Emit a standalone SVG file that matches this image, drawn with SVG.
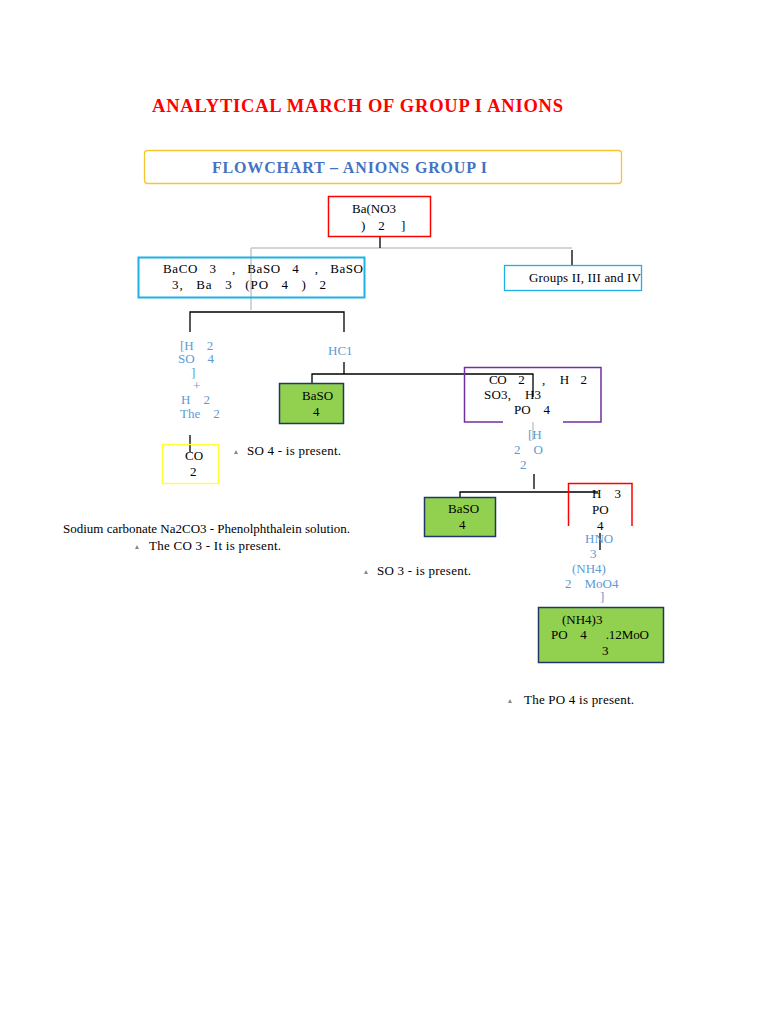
<svg xmlns="http://www.w3.org/2000/svg" width="768" height="1024" viewBox="0 0 768 1024">
<style>
text{font-family:"Liberation Serif","Times New Roman",serif;font-size:13px;fill:#000}
.t{font-size:13px}
.b{fill:#5b9bd5}
.title{font-size:18.5px;font-weight:bold;fill:#ff0000}
.sub{font-size:16px;font-weight:bold;fill:#4472c4}
.ln{stroke:#000;stroke-width:1.3;fill:none}
.gl{stroke:#c8c8c8;stroke-width:1.5;fill:none}
.green{fill:#92d050;stroke:#1f3864;stroke-width:1.5}
.bul{fill:#888}
</style>
<rect width="768" height="1024" fill="#fff"/>
<text class="title" x="152" y="112" textLength="411">ANALYTICAL MARCH OF GROUP I ANIONS</text>
<g id="header">
<rect x="144.5" y="150.5" width="477" height="33" rx="3" fill="#fff" stroke="#f7c531" stroke-width="1.3"/>
<text class="sub" x="212" y="173" textLength="275">FLOWCHART – ANIONS GROUP I</text>
</g>
<g id="connectors">
<path class="gl" d="M251 248 H572 M251 248 V310"/>
<path class="ln" d="M380 236 V248 M572 250 V265"/>
<path class="ln" d="M190 332 V312 H344 V332"/>
<path class="ln" d="M344 362 V374 M312 395 V374 H533 V397"/>
<path class="gl" d="M533 422 V440"/>
<path class="ln" d="M534 474 V489 M460 512 V492 H598"/>
<path class="ln" d="M600 533 V550"/>
<path class="gl" d="M600 618 V636"/>
<path class="ln" d="M190 435 V452"/>
</g>
<g id="n-bano3">
<rect x="328.5" y="196.5" width="102" height="40" fill="#fff" stroke="#ff0000" stroke-width="1.5"/>
<text x="352" y="213">Ba(NO3</text>
<text x="361" y="230" xml:space="preserve">)    2     ]</text>
</g>
<g id="n-precip">
<rect x="138.5" y="257.5" width="226" height="40" fill="none" stroke="#1fb1e6" stroke-width="2"/>
<text x="163" y="273" textLength="200" xml:space="preserve">BaCO   3    ,   BaSO   4    ,   BaSO</text>
<text x="172" y="289" textLength="154" xml:space="preserve">3,   Ba   3   (PO   4   )   2</text>
</g>
<g id="n-groups">
<rect x="504.5" y="265.5" width="137" height="25" fill="#fff" stroke="#1fb1e6" stroke-width="1.3"/>
<text x="529" y="282" textLength="112">Groups II, III and IV</text>
</g>
<g id="r-h2so4">
<text class="b" x="180" y="350" xml:space="preserve">[H    2</text>
<text class="b" x="178" y="363" xml:space="preserve">SO    4</text>
<text class="b" x="191" y="377">]</text>
<text class="b" x="193" y="390">+</text>
<text class="b" x="181" y="404" xml:space="preserve">H    2</text>
<text class="b" x="180" y="418" xml:space="preserve">The    2</text>
</g>
<g id="r-hcl"><text class="b" x="328" y="355">HC1</text></g>
<g id="n-baso4-a">
<rect x="279.5" y="383.5" width="64" height="40" class="green"/>
<text x="302" y="400">BaSO</text>
<text x="313" y="416">4</text>
</g>
<g id="n-filtrate">
<path d="M503 422 H464.5 V367.5 H601 V422 H563" fill="none" stroke="#7030a0" stroke-width="1.5"/>
<text x="489" y="384" textLength="98" xml:space="preserve">CO    2      ,     H    2</text>
<text x="484" y="399" textLength="57" xml:space="preserve">SO3,    H3</text>
<text x="514" y="414" xml:space="preserve">PO    4</text>
</g>
<g id="r-h2o2">
<text class="b" x="528" y="439">[H</text>
<text class="b" x="514" y="454" xml:space="preserve">2    O</text>
<text class="b" x="520" y="469">2</text>
</g>
<g id="n-co2">
<rect x="162.5" y="444.5" width="56" height="39" fill="none" stroke="#ffff33" stroke-width="1.3"/>
<text x="185" y="460">CO</text>
<text x="190" y="476">2</text>
</g>
<g id="n-baso4-b">
<rect x="424.5" y="497.5" width="71" height="39" class="green"/>
<text x="448" y="513">BaSO</text>
<text x="459" y="529">4</text>
</g>
<g id="n-h3po4">
<path d="M568.5 526 V483.5 H632 V526" fill="none" stroke="#ff0000" stroke-width="1.5"/>
<text x="592" y="498" xml:space="preserve">H    3</text>
<text x="592" y="514">PO</text>
<text x="597" y="530">4</text>
</g>
<g id="r-hno3">
<text class="b" x="585" y="543">HNO</text>
<text class="b" x="590" y="558">3</text>
<text class="b" x="572" y="573">(NH4)</text>
<text class="b" x="565" y="588" xml:space="preserve">2    MoO4</text>
<text class="b" x="600" y="601">]</text>
</g>
<g id="n-ammonium">
<rect x="538.5" y="607.5" width="125" height="55" class="green"/>
<text x="562" y="624">(NH4)3</text>
<text x="551" y="639" textLength="98" xml:space="preserve">PO    4      .12MoO</text>
<text x="602" y="655">3</text>
</g>
<g id="notes">
<polygon class="bul" points="234,454 238,454 236,450"/>
<text class="t" x="247" y="455" textLength="94">SO 4 - is present.</text>
<text x="63" y="533" font-size="12.5" textLength="287">Sodium carbonate Na2CO3 - Phenolphthalein solution.</text>
<polygon class="bul" points="135,549 139,549 137,545"/>
<text class="t" x="149" y="550" textLength="132">The CO 3 - It is present.</text>
<polygon class="bul" points="364,574 368,574 366,570"/>
<text class="t" x="377" y="575" textLength="94">SO 3 - is present.</text>
<polygon class="bul" points="508,703 512,703 510,699"/>
<text class="t" x="524" y="704" textLength="110">The PO 4 is present.</text>
</g>
</svg>
